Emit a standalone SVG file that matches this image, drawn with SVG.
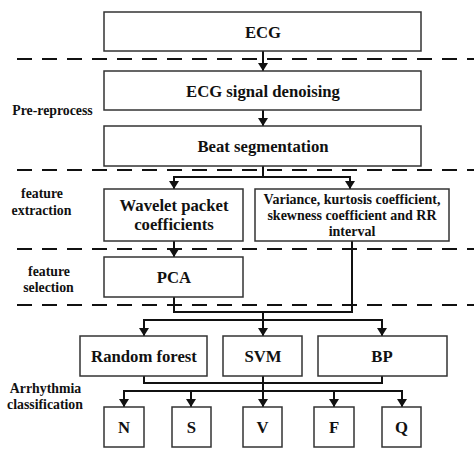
<svg xmlns="http://www.w3.org/2000/svg" width="474" height="459" viewBox="0 0 474 459">
<style>
.box{fill:#fff;stroke:#333;stroke-width:1.5}
.t{font-family:"Liberation Serif","Times New Roman",serif;font-weight:bold;fill:#111;text-anchor:middle}
.big{font-size:16.7px}
.sm{font-size:14px}
.lab{font-size:13.8px}
.dash{stroke:#111;stroke-width:2;stroke-dasharray:15 10;fill:none}
.ln{stroke:#111;stroke-width:2;fill:none}
</style>
<defs>
<marker id="arr" viewBox="0 0 10 10" refX="10" refY="5" markerWidth="8" markerHeight="10" preserveAspectRatio="none" markerUnits="userSpaceOnUse" orient="auto">
<path d="M0,0 L10,5 L0,10 z" fill="#111"/>
</marker>
</defs>
<rect width="474" height="459" fill="#fff"/>
<g id="separators">
<line class="dash" x1="17" y1="59" x2="474" y2="59"/>
<line class="dash" x1="17" y1="170" x2="474" y2="170"/>
<line class="dash" x1="17" y1="249" x2="474" y2="249"/>
<line class="dash" x1="17" y1="305" x2="474" y2="305"/>
</g>
<g id="stage-labels" font-family="Liberation Serif, Times New Roman, serif">
<text class="t lab" x="52.5" y="115">Pre-reprocess</text>
<text class="t lab" x="42" y="198.3">feature</text>
<text class="t lab" x="41.5" y="215">extraction</text>
<text class="t lab" x="49" y="275.7">feature</text>
<text class="t lab" x="48.5" y="291.7">selection</text>
<text class="t lab" x="45.5" y="393">Arrhythmia</text>
<text class="t lab" x="45" y="409">classification</text>
</g>
<g id="connectors">
<line class="ln" x1="263" y1="51" x2="263" y2="71" marker-end="url(#arr)"/>
<line class="ln" x1="263" y1="110" x2="263" y2="126" marker-end="url(#arr)"/>
<polyline class="ln" points="263,166 263,177"/>
<polyline class="ln" points="174,189 174,177 350,177 350,189" marker-end="url(#arr)"/>
<line class="ln" x1="174" y1="177" x2="174" y2="189" marker-end="url(#arr)"/>
<line class="ln" x1="174" y1="241" x2="174" y2="257" marker-end="url(#arr)"/>
<polyline class="ln" points="174,297 174,312 352,312 352,241"/>
<line class="ln" x1="263" y1="312" x2="263" y2="336" marker-end="url(#arr)"/>
<polyline class="ln" points="144,336 144,320 382,320 382,336" marker-end="url(#arr)"/>
<line class="ln" x1="144" y1="320" x2="144" y2="336" marker-end="url(#arr)"/>
<polyline class="ln" points="144,376 144,383 382,383 382,376"/>
<line class="ln" x1="263" y1="376" x2="263" y2="407" marker-end="url(#arr)"/>
<polyline class="ln" points="124,407 124,391 402,391 402,407" marker-end="url(#arr)"/>
<line class="ln" x1="124" y1="391" x2="124" y2="407" marker-end="url(#arr)"/>
<line class="ln" x1="191" y1="391" x2="191" y2="407" marker-end="url(#arr)"/>
<line class="ln" x1="334" y1="391" x2="334" y2="407" marker-end="url(#arr)"/>
</g>
<g id="nodes" font-family="Liberation Serif, Times New Roman, serif">
<g id="ecg"><rect class="box" x="104" y="12" width="317" height="39"/><text class="t big" x="263" y="37.5">ECG</text></g>
<g id="denoising"><rect class="box" x="104" y="71" width="317" height="39"/><text class="t big" x="263" y="97">ECG signal denoising</text></g>
<g id="beat"><rect class="box" x="104" y="126" width="317" height="40"/><text class="t big" x="263" y="151.5">Beat segmentation</text></g>
<g id="wavelet"><rect class="box" x="104" y="189" width="139" height="52"/><text class="t big" x="174" y="211">Wavelet packet</text><text class="t big" x="174" y="230">coefficients</text></g>
<g id="variance"><rect class="box" x="255" y="189" width="194" height="52"/><text class="t sm" x="352" y="203.5">Variance, kurtosis coefficient,</text><text class="t sm" x="352" y="219.5">skewness coefficient and RR</text><text class="t sm" x="352" y="235.5">interval</text></g>
<g id="pca"><rect class="box" x="104" y="257" width="139" height="40"/><text class="t big" x="174" y="282.5">PCA</text></g>
<g id="rf"><rect class="box" x="80" y="336" width="127" height="40"/><text class="t big" x="144" y="361.7">Random forest</text></g>
<g id="svm"><rect class="box" x="223" y="336" width="79" height="40"/><text class="t big" x="263" y="361.7">SVM</text></g>
<g id="bp"><rect class="box" x="318" y="336" width="129" height="40"/><text class="t big" x="382" y="361.7">BP</text></g>
<g id="n"><rect class="box" x="104" y="407" width="40" height="40"/><text class="t big" x="124" y="432.5">N</text></g>
<g id="s"><rect class="box" x="172" y="407" width="39" height="40"/><text class="t big" x="191.5" y="432.5">S</text></g>
<g id="v"><rect class="box" x="243" y="407" width="39" height="40"/><text class="t big" x="262.5" y="432.5">V</text></g>
<g id="f"><rect class="box" x="314" y="407" width="40" height="40"/><text class="t big" x="334" y="432.5">F</text></g>
<g id="q"><rect class="box" x="382" y="407" width="39" height="40"/><text class="t big" x="401.5" y="432.5">Q</text></g>
</g>
</svg>
